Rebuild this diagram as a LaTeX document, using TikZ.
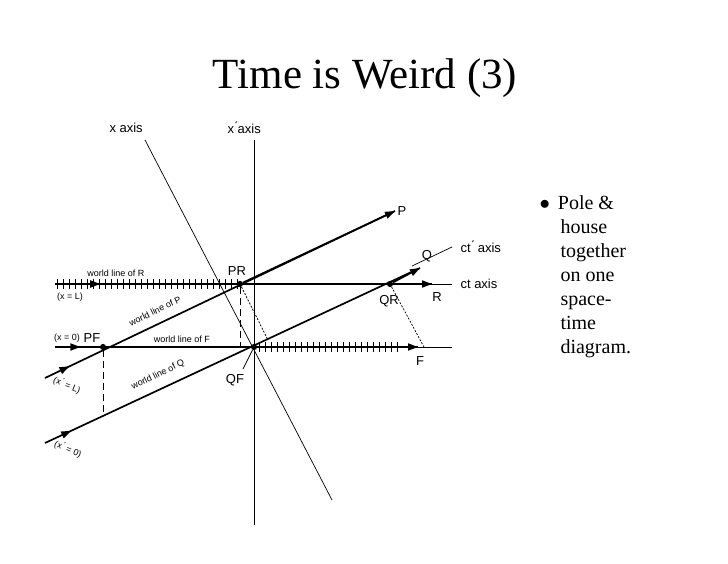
\documentclass[tikz,border=0pt]{standalone}
\usepackage{fontspec}
\setmainfont{Liberation Serif}
\newfontfamily\hv{Liberation Sans}
\usetikzlibrary{arrows.meta,decorations.markings}
\begin{document}
\begin{tikzpicture}[x=1pt,y=-1pt,
  wl/.style={line width=1.7pt},
  thin/.style={line width=0.7pt},
  lab/.style={font=\hv\fontsize{13}{14}\selectfont},
  sm/.style={font=\hv\fontsize{9}{10}\selectfont,inner sep=1pt},
  arr/.style={-{Triangle[length=10pt,width=7pt]}},
  midarr/.style={postaction={decorate},decoration={markings,mark=at position #1 with {\arrow{Triangle[length=10pt,width=7pt]}}}},
  dot/.style={circle,fill,inner sep=2.2pt}]
\useasboundingbox (0,0) rectangle (728,563);
\node[font=\fontsize{43}{46}\selectfont] (title) at (365,78) {Time is Weird (3)};
% points
\coordinate (QF) at (254,347);
\coordinate (PF) at (103,347);
\coordinate (PR) at (240,284);
\coordinate (QR) at (390,284);
\node[dot] (pf) at (PF) {};
\node[dot] (pr) at (PR) {};
\node[dot] (qr) at (QR) {};
\node[dot] (qf) at (QF) {};
% axes
\coordinate (xa1) at (145,140); \coordinate (xa2) at (332,500);
\draw[thin] (xa1) -- (xa2);
\coordinate (xp1) at (254,140); \coordinate (xp2) at (254,525);
\draw[thin] (xp1) -- (xp2);
\coordinate (cte) at (452,284); \coordinate (ctpe) at (452,247);
\coordinate (fe) at (452,347);
\draw[thin] (qr) -- (cte);
\draw[thin] (qf) -- (fe);
\draw[thin] (412,266) -- (ctpe);
\node[lab,anchor=west] (xl) at (106,128) {x axis};
\node[lab,anchor=west] (xpl) at (224,128) {x\'{}axis};
\node[lab,anchor=west] (ctl) at (457,284) {ct axis};
\node[lab,anchor=west] (ctpl) at (457,247) {ct\'{} axis};
% world line R
\coordinate (R0) at (55,284); \coordinate (Rend) at (432,284);
\draw[wl,midarr=0.12] (R0) -- (Rend);
\draw[wl,arr] (qr) -- (Rend);
\foreach \x in {57,63,...,237} \draw[line width=0.9pt] (\x,279) -- (\x,289);
% world line F
\coordinate (F0) at (55,347); \coordinate (Fend) at (418,347);
\draw[wl,midarr=0.07] (F0) -- (Fend);
\draw[wl,arr] (qf) -- (Fend);
\foreach \x in {259,265,...,397} \draw[line width=0.9pt] (\x,342) -- (\x,352);
% world line P
\coordinate (P0) at (45,378); \coordinate (Pend) at (395,211);
\draw[wl,midarr=0.07] (P0) -- (Pend);
\draw[wl,arr] (pr) -- (Pend);
% world line Q
\coordinate (Q0) at (45,443); \coordinate (Qend) at (420,268);
\draw[wl,midarr=0.07] (Q0) -- (Qend);
\draw[wl,arr] (qr) -- (Qend);
% dashed
\coordinate (pfd) at (103,415);
\draw[thin,dash pattern=on 7pt off 4pt] (pf) -- (pfd);
\coordinate (prd) at (240,347);
\draw[thin,dash pattern=on 7pt off 4pt] (pr) -- (prd);
\coordinate (prq) at (268,340);
\draw[thin,dash pattern=on 2pt off 1.5pt] (pr) -- (prq);
\coordinate (qrf) at (424,347);
\draw[thin,dash pattern=on 2pt off 1.5pt] (qr) -- (qrf);
% labels
\node[lab] (lP) at (402,211) {P};
\node[lab] (lQ) at (427,256) {Q};
\node[lab] (lR) at (437,297) {R};
\node[lab] (lF) at (420,361) {F};
\node[lab] (lPR) at (237,271) {PR};
\node[lab] (lQR) at (389,301) {QR};
\node[lab] (lPF) at (92,338) {PF};
\node[lab] (lQF) at (235,380) {QF};
\draw[thin] (243,369) -- (qf);
\node[sm] (wR) at (116,273) {world line of R};
\node[sm] (xL) at (70,297) {(x = L)};
\node[sm] (x0) at (67,338) {(x = 0)};
\node[sm] (wF) at (182,339) {world line of F};
\node[sm,rotate=26] (wP) at (155,311) {world line of P};
\node[sm,rotate=26] (wQ) at (158,375) {world line of Q};
\node[sm,rotate=-22] (xpL) at (67,385) {(x\'{} = L)};
\node[sm,rotate=-22] (xp0) at (68,449) {(x\'{} = 0)};
% bullet
\node[anchor=north west,align=left,font=\fontsize{20}{24}\selectfont] (bl) at (536,192)
 {$\bullet$\hspace{8pt}Pole \&\\\hspace{21pt}house\\\hspace{21pt}together\\\hspace{21pt}on one\\\hspace{21pt}space-\\\hspace{21pt}time\\\hspace{21pt}diagram.};
\end{tikzpicture}
\end{document}
